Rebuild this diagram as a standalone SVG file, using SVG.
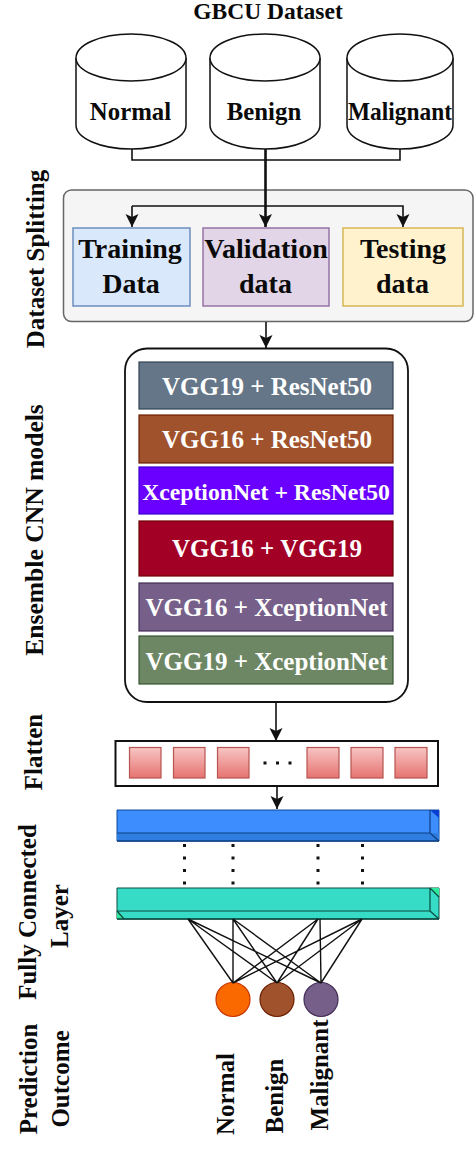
<svg xmlns="http://www.w3.org/2000/svg" width="474" height="1154" viewBox="0 0 474 1154">
<style>
text{font-family:"Liberation Serif","Times New Roman",serif;font-weight:700;fill:#0a0a0a;text-anchor:middle}
.cyl{fill:#fff;stroke:#111;stroke-width:1.5}
.cl{font-size:24.8px}
.big{font-size:28px}
.side{font-size:25px}
.m{font-size:25px;fill:#fff}
.mr{stroke-width:1.2}
.sq{fill:url(#red);stroke:#b85450;stroke-width:1.2}
.c{fill:none;stroke:#111;stroke-width:1.6}
.t{fill:none;stroke:#111;stroke-width:2.6}
.w{fill:none;stroke:#111;stroke-width:1.4}
.dot{fill:none;stroke:#111;stroke-width:3;stroke-dasharray:3 9.5}
</style>
<defs>
<linearGradient id="red" x1="0" y1="0" x2="0" y2="1"><stop offset="0" stop-color="#f6c5c3"/><stop offset="1" stop-color="#e67371"/></linearGradient>
<marker id="ah" markerUnits="userSpaceOnUse" markerWidth="14" markerHeight="14" refX="13" refY="6.5" orient="auto"><path d="M0 0L13 6.500L0 13L3 6.500Z" fill="#111"/></marker>
</defs>
<rect width="474" height="1154" fill="#fff"/>
<text x="268" y="19" font-size="23.5px">GBCU Dataset</text>

<g id="node-normal"><path class="cyl" d="M76 58A55 24 0 0 1 186 58V125A55 24 0 0 1 76 125Z"/><path class="cyl" d="M76 58A55 23 0 0 0 186 58"/><text class="cl" x="130.500" y="120">Normal</text></g>
<g id="node-benign"><path class="cyl" d="M210 58A55 24 0 0 1 320 58V125A55 24 0 0 1 210 125Z"/><path class="cyl" d="M210 58A55 23 0 0 0 320 58"/><text class="cl" x="264" y="120">Benign</text></g>
<g id="node-malignant"><path class="cyl" d="M347 58A53 24 0 0 1 453 58V125A53 24 0 0 1 347 125Z"/><path class="cyl" d="M347 58A53 23 0 0 0 453 58"/><text class="cl" x="400" y="120" textLength="104" lengthAdjust="spacingAndGlyphs">Malignant</text></g>

<g id="node-splitting"><rect x="63.500" y="190" width="409.500" height="131.500" rx="8" fill="#f5f5f5" stroke="#666" stroke-width="1.500"/></g>
<g id="node-training"><rect x="73" y="228" width="117" height="78" fill="#dae8fc" stroke="#6c8ebf" stroke-width="1.500"/><text class="big" x="130" y="258">Training</text><text class="big" x="131" y="293">Data</text></g>
<g id="node-validation"><rect x="203" y="228" width="126" height="78" fill="#e1d5e7" stroke="#9673a6" stroke-width="1.500"/><text class="big" x="266" y="258">Validation</text><text class="big" x="265.500" y="293">data</text></g>
<g id="node-testing"><rect x="343" y="228" width="120" height="78" fill="#fff2cc" stroke="#d6b656" stroke-width="1.500"/><text class="big" x="403" y="258">Testing</text><text class="big" x="402.500" y="293">data</text></g>

<g id="node-ensemble"><rect x="125" y="348.500" width="283" height="353.500" rx="22" fill="#fff" stroke="#111" stroke-width="1.800"/></g>
<g id="node-m1"><rect class="mr" x="139" y="362" width="254" height="47" fill="#647687" stroke="#314354"/><text class="m" x="267" y="395">VGG19 + ResNet50</text></g>
<g id="node-m2"><rect class="mr" x="139" y="415" width="254" height="48" fill="#a0522d" stroke="#6d1f00"/><text class="m" x="267" y="448">VGG16 + ResNet50</text></g>
<g id="node-m3"><rect class="mr" x="139" y="467" width="254" height="47" fill="#6a00ff" stroke="#3700cc"/><text class="m" x="266" y="500" style="font-size:23.7px">XceptionNet + ResNet50</text></g>
<g id="node-m4"><rect class="mr" x="139" y="521" width="254" height="55" fill="#a20025" stroke="#6f0000"/><text class="m" x="267" y="557">VGG16 + VGG19</text></g>
<g id="node-m5"><rect class="mr" x="139" y="583" width="254" height="48" fill="#76608a" stroke="#432d57"/><text class="m" x="266.500" y="616">VGG16 + XceptionNet</text></g>
<g id="node-m6"><rect class="mr" x="139" y="636" width="254" height="48" fill="#6d8764" stroke="#3a5431"/><text class="m" x="266.500" y="670">VGG19 + XceptionNet</text></g>

<g id="node-flatten"><rect x="115.500" y="741" width="322.500" height="45" fill="#fff" stroke="#111" stroke-width="2"/>
<rect class="sq" x="129.500" y="747.500" width="31.500" height="30.500"/><rect class="sq" x="173.500" y="747.500" width="31.500" height="30.500"/><rect class="sq" x="217.500" y="747.500" width="31.500" height="30.500"/><rect class="sq" x="307" y="747.500" width="32" height="30.500"/><rect class="sq" x="351" y="747.500" width="32" height="30.500"/><rect class="sq" x="395" y="747.500" width="32" height="30.500"/>
<path d="M263.500 761.500h3v3h-3zM276 761.500h3v3h-3zM288.500 761.500h3v3h-3z" fill="#111"/></g>

<g id="node-dense1"><path d="M117 810H439V841H117Z" fill="#3d8dff" stroke="#0d4a9a" stroke-width="1"/><path d="M430 810H439V818ZM117 833L125 841H117Z" fill="#0b3fd0"/><path d="M430 833H439V841ZM117 833H430L439 841H117Z" fill="#2f7de0"/><path d="M117 833H430V810M430 833L439 841" fill="none" stroke="#0d3f80" stroke-width="1.200"/><path d="M117 841H439" stroke="#0d3f80" stroke-width="1.500"/></g>
<g id="node-dense2"><path d="M117 888H439V919H117Z" fill="#36dcc5" stroke="#0d4a40" stroke-width="1"/><path d="M430 888H439V897ZM117 911L125 919H117Z" fill="#2ee8a0"/><path d="M117 911H430V888M430 911L439 919M117 911L124 919M430 888L439 897" fill="none" stroke="#0d4a40" stroke-width="1.200"/><path d="M117 919H439" stroke="#0d4a40" stroke-width="1.500"/></g>

<g id="node-o1"><circle cx="233" cy="999.500" r="17" fill="#fa6800" stroke="#c73500" stroke-width="1.200"/></g>
<g id="node-o2"><circle cx="277" cy="999.500" r="17" fill="#a0522d" stroke="#6d1f00" stroke-width="1.200"/></g>
<g id="node-o3"><circle cx="321" cy="999.500" r="17" fill="#76608a" stroke="#432d57" stroke-width="1.200"/></g>

<g id="connectors">
<path class="c" d="M132 149V160H400V149"/>
<path class="t" d="M265.500 149V227" marker-end="url(#ah)"/>
<path class="c" d="M132 206H403V227" marker-end="url(#ah)"/>
<path class="c" d="M132 206V227" marker-end="url(#ah)"/>
<path class="c" d="M266 322V348" marker-end="url(#ah)"/>
<path class="c" d="M276 702V741" marker-end="url(#ah)"/>
<path class="c" d="M277 786V809" marker-end="url(#ah)"/>
<path class="dot" d="M184.500 844V885M233 844V885M318 844V885M362.500 844V885"/>
<path class="w" d="M188 919L233 983M188 919L277 983M188 919L321 983M233 919L233 983M233 919L277 983M233 919L321 983M318 919L233 983M318 919L277 983M320 919L321 983M362 919L233 983M362 919L277 983M362 919L321 983"/>
</g>

<g id="labels">
<text class="side" transform="translate(44 259) rotate(-90)">Dataset Splitting</text>
<text class="side" style="font-size:25.6px" transform="translate(43 530) rotate(-90)">Ensemble CNN models</text>
<text class="side" transform="translate(42 752) rotate(-90)">Flatten</text>
<text class="side" transform="translate(36 912) rotate(-90)">Fully Connected</text>
<text class="side" transform="translate(68 916) rotate(-90)">Layer</text>
<text class="side" transform="translate(37 1079) rotate(-90)">Prediction</text>
<text class="side" transform="translate(69 1079) rotate(-90)">Outcome</text>
<text class="side" transform="translate(234 1094) rotate(-90)">Normal</text>
<text class="side" transform="translate(283 1096) rotate(-90)">Benign</text>
<text class="side" transform="translate(328 1075) rotate(-90)">Malignant</text>
</g>
</svg>
